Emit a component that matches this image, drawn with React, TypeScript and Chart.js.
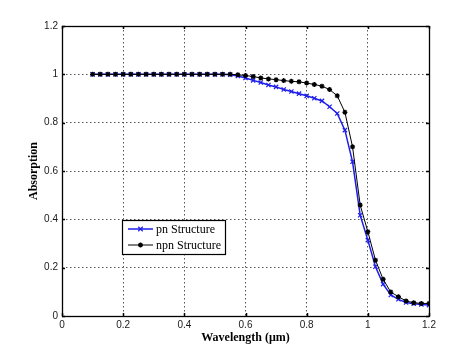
import React, { useEffect, useRef } from "react";
import { Chart, registerables } from "chart.js";

Chart.register(...registerables);

const wavelength = [
  0.1, 0.125, 0.15, 0.175, 0.2, 0.225, 0.25, 0.275, 0.3, 0.325, 0.35, 0.375, 0.4, 0.425, 0.45,
  0.475, 0.5, 0.525, 0.55, 0.575, 0.6, 0.625, 0.65, 0.675, 0.7, 0.725, 0.75, 0.775, 0.8, 0.825,
  0.85, 0.875, 0.9, 0.925, 0.95, 0.975, 1.0, 1.025, 1.05, 1.075, 1.1, 1.125, 1.15, 1.175, 1.2,
];

const pnStructure = [
  1, 1, 1, 1, 1, 1, 1, 1, 1, 1, 1, 1, 1, 1, 1, 1, 1,
  1.0, 0.998, 0.993, 0.985, 0.975, 0.966, 0.956, 0.948, 0.937, 0.929, 0.92, 0.911, 0.901,
  0.89, 0.866, 0.838, 0.769, 0.638, 0.417, 0.314, 0.204, 0.132, 0.087, 0.069, 0.056, 0.051,
  0.048, 0.045,
];

const npnStructure = [
  1, 1, 1, 1, 1, 1, 1, 1, 1, 1, 1, 1, 1, 1, 1, 1, 1, 1, 1,
  0.998, 0.995, 0.991, 0.985, 0.981, 0.978, 0.974, 0.971, 0.969, 0.964, 0.958, 0.951, 0.937,
  0.911, 0.843, 0.7, 0.459, 0.349, 0.231, 0.152, 0.099, 0.08, 0.062, 0.055, 0.052, 0.052,
];

const seriesNames = ["pn Structure", "npn Structure"];
const xTitle = "Wavelength (\u03bcm)";
const yTitle = "Absorption";

const BLUE = "rgb(30,30,235)";
const BLACK = "#000";

function drawMarker(ctx: CanvasRenderingContext2D, style: string, x: number, y: number, color: string) {
  ctx.save();
  ctx.strokeStyle = color;
  ctx.lineWidth = style === "star" ? 1.3 : 1.2;
  const r = style === "star" ? 2.5 : 3;
  ctx.beginPath();
  if (style === "crossRot") {
    ctx.moveTo(x - r * 0.75, y - r * 0.75);
    ctx.lineTo(x + r * 0.75, y + r * 0.75);
    ctx.moveTo(x - r * 0.75, y + r * 0.75);
    ctx.lineTo(x + r * 0.75, y - r * 0.75);
  } else {
    ctx.moveTo(x - r, y);
    ctx.lineTo(x + r, y);
    ctx.moveTo(x, y - r);
    ctx.lineTo(x, y + r);
    const d = r * 0.7;
    ctx.moveTo(x - d, y - d);
    ctx.lineTo(x + d, y + d);
    ctx.moveTo(x - d, y + d);
    ctx.lineTo(x + d, y - d);
  }
  ctx.stroke();
  ctx.restore();
}

const framePlugin = {
  id: "frame",
  afterDatasetsDraw(chart: any) {
    const { ctx, chartArea, scales } = chart;
    const { left, right, top, bottom } = chartArea;
    ctx.save();
    ctx.strokeStyle = "#000";
    ctx.lineWidth = 1.3;
    ctx.setLineDash([]);
    ctx.strokeRect(left + 0.5, top + 0.5, right - left, bottom - top);
    // inward ticks
    const tl = 3;
    ctx.lineWidth = 1.5;
    ctx.beginPath();
    scales.x.ticks.forEach((t: any) => {
      const x = Math.round(scales.x.getPixelForValue(t.value)) + 0.5;
      ctx.moveTo(x, bottom);
      ctx.lineTo(x, bottom - tl);
      ctx.moveTo(x, top);
      ctx.lineTo(x, top + tl);
    });
    scales.y.ticks.forEach((t: any) => {
      const y = Math.round(scales.y.getPixelForValue(t.value)) + 0.5;
      ctx.moveTo(left, y);
      ctx.lineTo(left + tl, y);
      ctx.moveTo(right, y);
      ctx.lineTo(right - tl, y);
    });
    ctx.stroke();

    // axis titles
    ctx.fillStyle = "#000";
    ctx.font = "bold 12px 'Liberation Serif', 'Times New Roman', serif";
    ctx.textAlign = "center";
    ctx.textBaseline = "middle";
    ctx.fillText(xTitle, (left + right) / 2, 338);
    ctx.save();
    ctx.translate(34, (top + bottom) / 2);
    ctx.rotate(-Math.PI / 2);
    ctx.fillText(yTitle, 0, 0);
    ctx.restore();

    // legend
    const lx = 122, ly = 220, lw = 103, lh = 34;
    ctx.fillStyle = "#fff";
    ctx.fillRect(lx, ly, lw, lh);
    ctx.strokeStyle = "#000";
    ctx.lineWidth = 1.2;
    ctx.strokeRect(lx + 0.5, ly + 0.5, lw, lh);
    const rows = [
      { y: 229, color: BLUE, style: "crossRot", name: seriesNames[0], lw: 1.5 },
      { y: 245, color: BLACK, style: "star", name: seriesNames[1], lw: 1 },
    ];
    rows.forEach((r) => {
      ctx.strokeStyle = r.color;
      ctx.lineWidth = r.lw;
      ctx.beginPath();
      ctx.moveTo(128, r.y);
      ctx.lineTo(153, r.y);
      ctx.stroke();
      drawMarker(ctx, r.style, 140.5, r.y, r.color);
      ctx.fillStyle = "#000";
      ctx.font = "12px 'Liberation Serif', 'Times New Roman', serif";
      ctx.textAlign = "left";
      ctx.textBaseline = "middle";
      ctx.fillText(r.name, 156, r.y + 0.5);
    });
    ctx.restore();
  },
};

function fmt(v: number) {
  const r = Math.round(v * 10) / 10;
  return String(r);
}

export default function App() {
  const ref = useRef<HTMLCanvasElement>(null);
  useEffect(() => {
    const canvas = ref.current;
    if (!canvas) return;
    const tickFont = { family: "'Liberation Sans', Arial, sans-serif", size: 10 };
    const chart = new Chart(canvas, {
      type: "line",
      data: {
        datasets: [
          {
            label: seriesNames[0],
            data: wavelength.map((x, i) => ({ x, y: pnStructure[i] })),
            borderColor: BLUE,
            backgroundColor: BLUE,
            borderWidth: 1.5,
            pointStyle: "crossRot",
            pointRadius: 3,
            pointBorderWidth: 1.2,
            pointBorderColor: BLUE,
            tension: 0,
            order: 2,
          },
          {
            label: seriesNames[1],
            data: wavelength.map((x, i) => ({ x, y: npnStructure[i] })),
            borderColor: BLACK,
            backgroundColor: BLACK,
            borderWidth: 1,
            pointStyle: "star",
            pointRadius: 2.5,
            pointBorderWidth: 1.3,
            pointBorderColor: BLACK,
            tension: 0,
            order: 1,
          },
        ],
      },
      options: {
        animation: false,
        responsive: false,
        devicePixelRatio: 1,
        layout: { padding: { top: 26, right: 45, left: 0, bottom: 0 } },
        plugins: { legend: { display: false }, tooltip: { enabled: false } },
        scales: {
          x: {
            type: "linear",
            min: 0,
            max: 1.2,
            ticks: {
              stepSize: 0.2,
              color: "#1a1a1a",
              font: tickFont,
              padding: 3,
              maxRotation: 0,
              callback: (v: any) => fmt(Number(v)),
            },
            grid: { color: "#555", lineWidth: 1, drawTicks: false },
            border: { display: false, dash: [1.5, 2.5] },
            afterFit: (s: any) => {
              s.height = 40;
            },
          },
          y: {
            type: "linear",
            min: 0,
            max: 1.2,
            ticks: {
              stepSize: 0.2,
              color: "#1a1a1a",
              font: tickFont,
              padding: 4,
              callback: (v: any) => fmt(Number(v)),
            },
            grid: { color: "#555", lineWidth: 1, drawTicks: false },
            border: { display: false, dash: [1.5, 2.5] },
            afterFit: (s: any) => {
              s.width = 62;
            },
          },
        },
      },
      plugins: [framePlugin],
    } as any);
    return () => chart.destroy();
  }, []);
  return (
    <div style={{ position: "absolute", left: 0, top: 0, width: 474, height: 356, background: "#fff" }}>
      <canvas ref={ref} width={474} height={356} />
    </div>
  );
}
